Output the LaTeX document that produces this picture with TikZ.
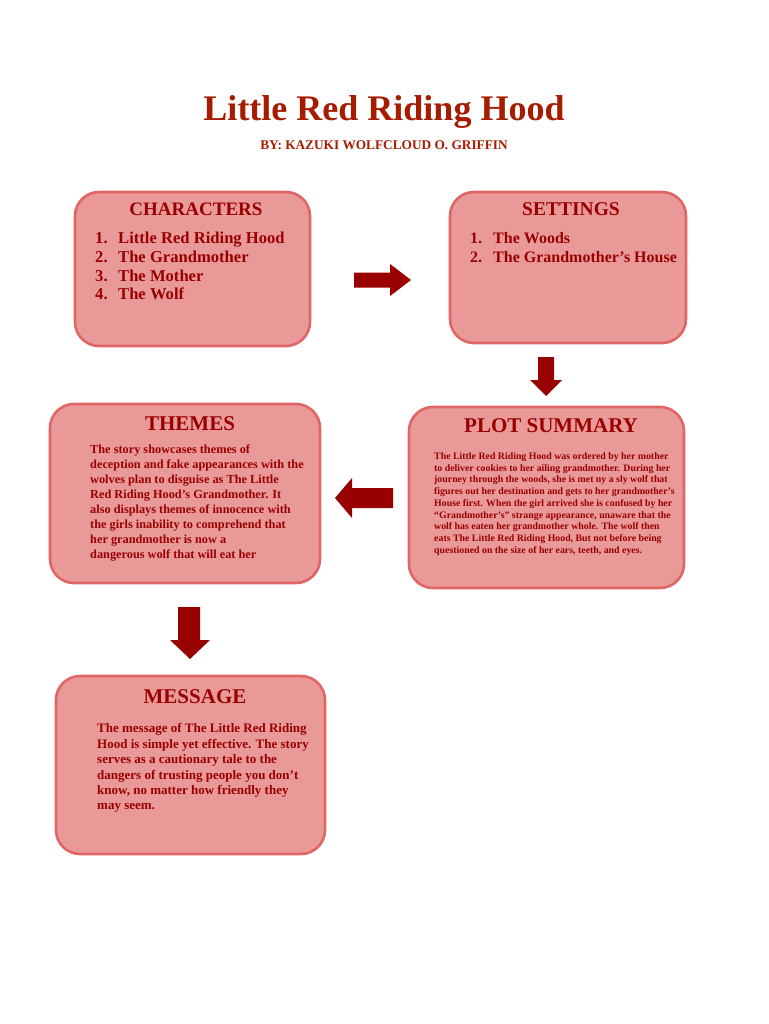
\documentclass[tikz,border=0pt]{standalone}
\usepackage{fontspec}
\setmainfont{Liberation Serif}
\definecolor{boxfill}{HTML}{EA9999}
\definecolor{boxline}{HTML}{E06666}
\definecolor{txtred}{HTML}{990000}
\definecolor{titlered}{HTML}{A61C00}
\definecolor{arrowred}{HTML}{990000}
\tikzset{
  card/.style={draw=boxline, fill=boxfill, line width=2.6pt, rounded corners=24pt, inner sep=0pt},
  heading/.style={anchor=base, inner sep=0pt, text=txtred, font=\bfseries\fontsize{21}{24}\selectfont},
  bodytext/.style={anchor=north west, inner sep=0pt, align=left, text=txtred},
  blockarrow/.style={fill=arrowred, draw=none}
}
\newcommand{\numitem}[1]{\makebox[23pt][l]{#1}}
\begin{document}
\begin{tikzpicture}[x=1pt,y=-1pt]
\useasboundingbox (0,0) rectangle (768,1024);
\fill[white] (0,0) rectangle (768,1024);

% title
\node[anchor=base, inner sep=0pt, text=titlered, font=\bfseries\fontsize{36}{40}\selectfont] (title) at (384,121) {Little Red Riding Hood};
\node[anchor=base, inner sep=0pt, text=titlered, font=\bfseries\fontsize{13.3}{15}\selectfont] (author) at (384,150) {BY: KAZUKI WOLFCLOUD O. GRIFFIN};

% boxes
\node[card, minimum width=235pt, minimum height=154pt] (chars) at (192.5,269) {};
\node[card, minimum width=236pt, minimum height=151pt] (sett) at (568,267.5) {};
\node[card, minimum width=270pt, minimum height=179pt] (themes) at (185,493.5) {};
\node[card, minimum width=275pt, minimum height=181pt] (plot) at (546.5,497.5) {};
\node[card, minimum width=269pt, minimum height=178pt] (msg) at (190.5,765) {};

% headings
\node[heading, font=\bfseries\fontsize{19}{22}\selectfont] (charsH) at (196,215) {CHARACTERS};
\node[heading, font=\bfseries\fontsize{19.5}{22}\selectfont] (settH) at (571,216) {SETTINGS};
\node[heading] (themesH) at (190,430) {THEMES};
\node[heading] (plotH) at (551,432) {PLOT SUMMARY};
\node[heading] (msgH) at (195,703) {MESSAGE};

% lists
\node[bodytext, font=\bfseries\fontsize{16.6}{18.7}\selectfont] (charsL) at (95,232) {%
\numitem{1.}Little Red Riding Hood\\
\numitem{2.}The Grandmother\\
\numitem{3.}The Mother\\
\numitem{4.}The Wolf};
\node[bodytext, font=\bfseries\fontsize{16}{18.7}\selectfont] (settL) at (470,232) {%
\numitem{1.}The Woods\\
\numitem{2.}The Grandmother’s House};

% paragraphs
\node[bodytext, font=\bfseries\fontsize{12.3}{15}\selectfont] (themesT) at (90,445) {%
The story showcases themes of\\
deception and fake appearances with the\\
wolves plan to disguise as The Little\\
Red Riding Hood’s Grandmother. It\\
also displays themes of innocence with\\
the girls inability to comprehend that\\
her grandmother is now a\\
dangerous wolf that will eat her};

\node[bodytext, font=\bfseries\fontsize{9.85}{11.7}\selectfont] (plotT) at (434,452.5) {%
The Little Red Riding Hood was ordered by her mother\\
to deliver cookies to her ailing grandmother. During her\\
journey through the woods, she is met ny a sly wolf that\\
figures out her destination and gets to her grandmother’s\\
House first. When the girl arrived she is confused by her\\
“Grandmother’s” strange appearance, unaware that the\\
wolf has eaten her grandmother whole. The wolf then\\
eats The Little Red Riding Hood, But not before being\\
questioned on the size of her ears, teeth, and eyes.};

\node[bodytext, font=\bfseries\fontsize{13}{15.4}\selectfont] (msgT) at (97,723.5) {%
The message of The Little Red Riding\\
Hood is simple yet effective. The story\\
serves as a cautionary tale to the\\
dangers of trusting people you don’t\\
know, no matter how friendly they\\
may seem.};

% block arrows
\coordinate (a1) at (354,280);
\fill[blockarrow] (a1) ++(0,-7.5) -- ++(36,0) -- ++(0,-8.5) -- (411,280) -- (390,296) -- ++(0,-8.5) -- ++(-36,0) -- cycle;
\coordinate (a2) at (546,357);
\fill[blockarrow] (538,357) -- (554,357) -- (554,380) -- (562,380) -- (546,396) -- (530,380) -- (538,380) -- cycle;
\coordinate (a3) at (335,498);
\fill[blockarrow] (a3) -- (352,478) -- (352,488) -- (393,488) -- (393,508) -- (352,508) -- (352,518) -- cycle;
\coordinate (a4) at (190,659);
\fill[blockarrow] (178,607) -- (200,607) -- (200,640) -- (210,640) -- (a4) -- (170,640) -- (178,640) -- cycle;
\end{tikzpicture}
\end{document}
